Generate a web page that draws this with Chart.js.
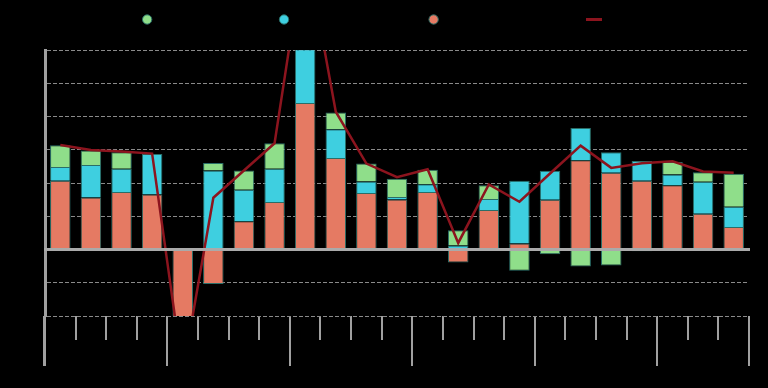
<!DOCTYPE html>
<html lang="en">
<head>
<meta charset="UTF-8">
<title>GDP growth contributions</title>
<script src="https://cdn.jsdelivr.net/npm/chart.js"></script>
<style>
    html, body { margin: 0; padding: 0; background: #000; overflow: hidden; }
    canvas { display: block; }
</style>
</head>
<body>
<canvas id="chart" width="768" height="388"></canvas>
<script>
// quarters, grouped by fiscal year (4 per year, last year 3)
const quarters = [
    'Q1 FY20', 'Q2 FY20', 'Q3 FY20', 'Q4 FY20',
    'Q1 FY21', 'Q2 FY21', 'Q3 FY21', 'Q4 FY21',
    'Q1 FY22', 'Q2 FY22', 'Q3 FY22', 'Q4 FY22',
    'Q1 FY23', 'Q2 FY23', 'Q3 FY23', 'Q4 FY23',
    'Q1 FY24', 'Q2 FY24', 'Q3 FY24', 'Q4 FY24',
    'Q1 FY25', 'Q2 FY25', 'Q3 FY25'
];
const yearBreaks = [0, 4, 8, 12, 16, 20, 23];

const household  = [2.07, 1.57, 1.73, 1.66, -3.70, -1.04, 0.85, 1.43, 4.41, 2.76, 1.70, 1.51, 1.73, -0.39, 1.19, 0.18, 1.50, 2.69, 2.31, 2.07, 1.94, 1.08, 0.68];
const government = [0.42, 0.98, 0.70, 1.22, 0, 2.38, 0.95, 1.00, 4.80, 0.86, 0.35, 0.07, 0.24, 0.12, 0.33, 1.89, 0.87, 0.97, 0.62, 0.60, 0.32, 0.96, 0.61];
const netExports = [0.65, 0.43, 0.50, 0, 0, 0.23, 0.58, 0.77, 0, 0.51, 0.54, 0.55, 0.43, 0.46, 0.42, -0.64, -0.14, -0.51, -0.48, -0.05, 0.38, 0.29, 0.99];
const gdp        = [3.15, 3.00, 2.95, 2.89, -3.70, 1.56, 2.38, 3.20, 9.20, 4.15, 2.59, 2.18, 2.42, 0.20, 1.96, 1.44, 2.29, 3.13, 2.46, 2.60, 2.66, 2.35, 2.31];

const GREEN = '#8fde8a', CYAN = '#3ecfe0', SALMON = '#e57a63', RED = '#8c141e';
const EDGE = '#2a6e68';
const AXIS = '#a0a0a0';

Chart.defaults.font.family = "'Liberation Sans', Arial, sans-serif";
Chart.defaults.font.size = 12;
Chart.defaults.color = '#000';

// legend icon for the line series
const lineIcon = document.createElement('canvas');
lineIcon.width = 16;
lineIcon.height = 3;
const lctx = lineIcon.getContext('2d');
lctx.fillStyle = RED;
lctx.fillRect(0, 0, 16, 3);

// extra room between legend and plot
const legendGap = {
    id: 'legendGap',
    beforeInit(chart) {
        const fit = chart.legend.fit;
        chart.legend.fit = function () {
            fit.call(this);
            this.height += 14.8;
        };
    }
};

// grid line i sits on the left edge of category i (last one: right edge, no index)
const isYearBreak = c => c.index === undefined || yearBreaks.includes(c.index);

new Chart(document.getElementById('chart'), {
    type: 'bar',
    data: {
        labels: quarters,
        datasets: [
            { type: 'line', label: 'GDP', data: gdp, borderColor: RED, backgroundColor: RED, borderWidth: 2.5,
              pointRadius: 0, pointStyle: lineIcon, tension: 0, xAxisID: 'x', yAxisID: 'y' },
            { label: 'Household consumption', data: household, backgroundColor: SALMON, borderColor: EDGE, borderWidth: 1, xAxisID: 'x', yAxisID: 'y' },
            { label: 'Government spending', data: government, backgroundColor: CYAN, borderColor: EDGE, borderWidth: 1, xAxisID: 'x', yAxisID: 'y' },
            { label: 'Net exports (goods)', data: netExports, backgroundColor: GREEN, borderColor: EDGE, borderWidth: 1, xAxisID: 'x', yAxisID: 'y' }
        ]
    },
    plugins: [legendGap],
    options: {
        responsive: false,
        animation: false,
        events: [],
        layout: { padding: { left: 5, right: 0, top: 0, bottom: 0 } },
        datasets: { bar: { categoryPercentage: 0.67, barPercentage: 1 } },
        plugins: {
            legend: {
                reverse: true,
                labels: { usePointStyle: true, boxWidth: 12, boxHeight: 6.6, padding: 13.5 }
            },
            tooltip: { enabled: false }
        },
        scales: {
            x: {
                type: 'category',
                stacked: true,
                offset: true,
                weight: 0,
                grid: { offset: true, drawOnChartArea: false, drawTicks: true, tickLength: 24, color: AXIS,
                        lineWidth: c => c.index === 0 ? 3 : 2 },
                border: { display: false },
                ticks: { autoSkip: false, maxRotation: 0, minRotation: 0 },
                afterFit(s) { s.height = 24; s.paddingLeft = 0; s.paddingRight = 19; }
            },
            // continuation of the marks between fiscal years
            x2: {
                type: 'category',
                axis: 'x',
                position: 'bottom',
                weight: 1,
                offset: true,
                grid: { offset: true, drawOnChartArea: false, drawTicks: true, tickLength: 26,
                        color: c => isYearBreak(c) ? AXIS : 'rgba(0,0,0,0)',
                        lineWidth: c => c.index === 0 ? 3 : 2 },
                border: { display: false },
                ticks: { display: false },
                afterFit(s) { s.height = 48; s.paddingLeft = 0; s.paddingRight = 19; }
            },
            // solid zero line
            xz: {
                type: 'category',
                axis: 'x',
                position: { y: 0 },
                offset: true,
                grid: { display: false },
                ticks: { display: false },
                border: { display: true, color: '#aaaaaa', width: 3, z: 1 }
            },
            y: {
                stacked: true,
                min: -2,
                max: 6,
                ticks: { stepSize: 1 },
                grid: { color: '#8a8a8a', lineWidth: 1, drawTicks: false },
                border: { display: true, color: AXIS, width: 3, dash: [4, 2] },
                afterFit(s) { s.width = 40; s.paddingTop = 0; s.paddingBottom = 0; }
            }
        }
    }
});
</script>
</body>
</html>
